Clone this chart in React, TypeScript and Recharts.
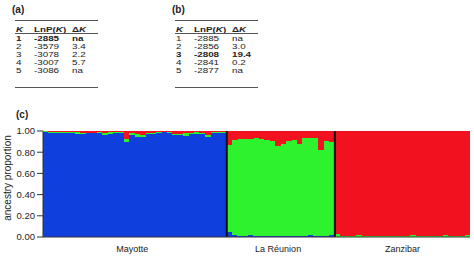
import React from 'react';
import { BarChart, Bar, XAxis, YAxis, ReferenceLine } from 'recharts';

// STRUCTURE run summaries
const kValues = [1, 2, 3, 4, 5];
const lnPA = ['-2885', '-3579', '-3078', '-3007', '-3086'];
const deltaKA = ['na', '3.4', '2.2', '5.7', 'na'];
const lnPB = ['-2885', '-2856', '-2808', '-2841', '-2877'];
const deltaKB = ['na', '3.0', '19.4', '0.2', 'na'];
const boldRowA = 0;
const boldRowB = 2;

// Ancestry proportions per individual (blue, green, red clusters)
const mayotteBlue = [0.99, 0.985, 0.98, 0.98, 0.98, 0.985, 0.97, 0.975, 0.98, 0.98, 0.985, 0.965, 0.975, 0.98, 0.98, 0.9, 0.965, 0.945, 0.94, 0.97, 0.975, 0.985, 0.99, 0.985, 0.96, 0.96, 0.95, 0.97, 0.97, 0.975, 0.945, 0.985, 0.985, 0.98];
const mayotteGreen = [0.008, 0.01, 0.015, 0.015, 0.015, 0.01, 0.02, 0.01, 0.005, 0.005, 0.005, 0.02, 0.015, 0.01, 0.01, 0.02, 0.02, 0.03, 0.025, 0.015, 0.01, 0.005, 0.005, 0.005, 0.01, 0.015, 0.03, 0.015, 0.02, 0.01, 0.015, 0.005, 0.01, 0.01];
const mayotteRed = [0.002, 0.005, 0.005, 0.005, 0.005, 0.005, 0.01, 0.015, 0.015, 0.015, 0.01, 0.015, 0.01, 0.01, 0.01, 0.08, 0.015, 0.025, 0.035, 0.015, 0.015, 0.01, 0.005, 0.01, 0.03, 0.025, 0.02, 0.015, 0.01, 0.015, 0.04, 0.01, 0.005, 0.01];

const reunionBlue = [0.05, 0.015, 0.01, 0.01, 0.015, 0.01, 0.01, 0.01, 0.01, 0.01, 0.01, 0.01, 0.01, 0.01, 0.01, 0.015, 0.01, 0.01, 0.01, 0.02];
const reunionGreen = [0.82, 0.9, 0.91, 0.915, 0.905, 0.925, 0.915, 0.905, 0.895, 0.85, 0.87, 0.895, 0.905, 0.87, 0.92, 0.915, 0.92, 0.81, 0.9, 0.88];
const reunionRed = [0.13, 0.085, 0.08, 0.075, 0.08, 0.065, 0.075, 0.085, 0.095, 0.14, 0.12, 0.095, 0.085, 0.12, 0.07, 0.07, 0.07, 0.18, 0.09, 0.1];

const zanzibarBlue = [0.002, 0, 0, 0, 0, 0, 0, 0, 0, 0, 0, 0, 0, 0, 0, 0, 0, 0, 0, 0, 0, 0, 0, 0, 0];
const zanzibarGreen = [0.03, 0.01, 0.005, 0.01, 0.015, 0.01, 0.005, 0.01, 0.005, 0.01, 0.005, 0.005, 0.01, 0.01, 0.015, 0.01, 0.005, 0.01, 0.01, 0.01, 0.015, 0.005, 0.01, 0.01, 0.015];
const zanzibarRed = [0.968, 0.99, 0.995, 0.99, 0.985, 0.99, 0.995, 0.99, 0.995, 0.99, 0.995, 0.995, 0.99, 0.99, 0.985, 0.99, 0.995, 0.99, 0.99, 0.99, 0.985, 0.995, 0.99, 0.99, 0.985];

const populations = [
  { prefix: 'M', name: 'Mayotte', blue: mayotteBlue, green: mayotteGreen, red: mayotteRed, tick: 16 },
  { prefix: 'R', name: 'La Réunion', blue: reunionBlue, green: reunionGreen, red: reunionRed, tick: 9 },
  { prefix: 'Z', name: 'Zanzibar', blue: zanzibarBlue, green: zanzibarGreen, red: zanzibarRed, tick: 12 },
];

const yTicks = [0, 0.2, 0.4, 0.6, 0.8, 1];

const BLUE = '#0f3fdc';
const GREEN = '#2ef22e';
const RED = '#f2121f';

const rows: { id: string; blue: number; green: number; red: number }[] = [];
const groupTicks: string[] = [];
const tickNames: Record<string, string> = {};
const firstIds: string[] = [];
populations.forEach((p) => {
  p.blue.forEach((b, i) => {
    const id = p.prefix + (i + 1);
    rows.push({ id, blue: b, green: p.green[i], red: p.red[i] });
    if (i === 0) firstIds.push(id);
    if (i === p.tick) {
      groupTicks.push(id);
      tickNames[id] = p.name;
    }
  });
});

const FONT = '"Liberation Sans", Arial, sans-serif';
const TXT = '#222';

function KTable({ left, title, lnP, deltaK, boldRow }: { left: number; title: string; lnP: string[]; deltaK: string[]; boldRow: number }) {
  const cell = (x: number, y: number, content: React.ReactNode, bold: boolean) => (
    <div
      style={{
        position: 'absolute',
        left: left + x,
        top: y,
        fontSize: 7,
        lineHeight: '8px',
        fontWeight: bold ? 700 : 400,
        color: TXT,
        whiteSpace: 'nowrap',
        transform: 'scaleX(1.4)',
        transformOrigin: 'left center',
      }}
    >
      {content}
    </div>
  );
  return (
    <>
      <div style={{ position: 'absolute', left: left + 12, top: 4, fontSize: 10, fontWeight: 700, color: TXT }}>{title}</div>
      <div style={{ position: 'absolute', left: left + 15, top: 19.5, width: 83, height: 1, background: '#555' }} />
      {cell(16, 25.5, <i>K</i>, true)}
      {cell(34, 25.5, <>LnP(<i>K</i>)</>, true)}
      {cell(72, 25.5, <>Δ<i>K</i></>, true)}
      <div style={{ position: 'absolute', left: left + 15, top: 33, width: 83, height: 1, background: '#555' }} />
      {kValues.map((k, i) => (
        <React.Fragment key={k}>
          {cell(16, 34.5 + i * 8.2, k, i === boldRow)}
          {cell(34, 34.5 + i * 8.2, lnP[i], i === boldRow)}
          {cell(72, 34.5 + i * 8.2, deltaK[i], i === boldRow)}
        </React.Fragment>
      ))}
      <div style={{ position: 'absolute', left: left + 15, top: 87, width: 83, height: 1, background: '#555' }} />
    </>
  );
}

function YLabel(props: any) {
  const vb = props.viewBox || { x: 0, y: 131, width: 43, height: 106 };
  const cx = 7;
  const cy = vb.y + vb.height / 2 - 6;
  return (
    <text
      x={cx}
      y={cy}
      transform={`rotate(-90, ${cx}, ${cy})`}
      textAnchor="middle"
      dominantBaseline="central"
      fontSize={10}
      fill={TXT}
      fontFamily={FONT}
    >
      ancestry proportion
    </text>
  );
}

// Bar segments widened slightly so neighbouring individuals join without seams
const JoinedBar = (props: any) => {
  const { x, y, width, height, fill } = props;
  if (!height || height <= 0) return <g />;
  return <rect x={x - 0.35} y={y} width={width + 0.7} height={height} fill={fill} shapeRendering="crispEdges" />;
};

export default function App() {
  return (
    <div style={{ position: 'absolute', left: 0, top: 0, width: 474, height: 257, background: '#fff', fontFamily: FONT, overflow: 'hidden' }}>
      <KTable left={0} title="(a)" lnP={lnPA} deltaK={deltaKA} boldRow={boldRowA} />
      <KTable left={160} title="(b)" lnP={lnPB} deltaK={deltaKB} boldRow={boldRowB} />
      <div style={{ position: 'absolute', left: 16, top: 109, fontSize: 10, fontWeight: 700, color: TXT }}>(c)</div>
      <div style={{ position: 'absolute', left: 0, top: 0 }}>
        <BarChart
          width={474}
          height={257}
          data={rows}
          margin={{ top: 131, right: 4, bottom: 0, left: 0 }}
          barCategoryGap={0}
          barGap={0}
        >
          <XAxis
            dataKey="id"
            ticks={groupTicks}
            interval={0}
            tickFormatter={(v: string) => tickNames[v] || ''}
            tickLine={false}
            tickSize={0}
            tickMargin={9}
            height={20}
            axisLine={{ stroke: '#333' }}
            tick={{ fontSize: 9, fill: TXT, fontFamily: FONT }}
          />
          <YAxis
            width={43}
            domain={[0, 1]}
            allowDataOverflow
            ticks={yTicks}
            interval={0}
            tickFormatter={(v: number) => v.toFixed(2)}
            tickSize={6}
            tickMargin={2}
            axisLine={{ stroke: '#333' }}
            tickLine={{ stroke: '#333' }}
            tick={{ fontSize: 9.5, fill: TXT, fontFamily: FONT }}
            label={{ content: (p: any) => <YLabel {...p} /> }}
          />
          <Bar dataKey="blue" stackId="q" fill={BLUE} shape={JoinedBar} isAnimationActive={false} />
          <Bar dataKey="green" stackId="q" fill={GREEN} shape={JoinedBar} isAnimationActive={false} />
          <Bar dataKey="red" stackId="q" fill={RED} shape={JoinedBar} isAnimationActive={false} />
          {firstIds.slice(1).map((id) => (
            <ReferenceLine key={id} x={id} position="start" stroke="#111" strokeWidth={2} />
          ))}
        </BarChart>
      </div>
    </div>
  );
}
